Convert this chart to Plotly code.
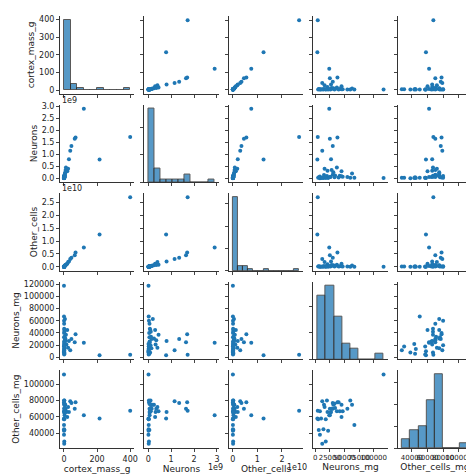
import numpy as np
import plotly.graph_objects as go
from plotly.subplots import make_subplots

cortex_mass_g = [400, 215, 120, 70, 65, 45, 38, 30, 25, 20, 15, 12, 10, 8, 6, 5, 4, 3.5, 3, 2.5,
                 2, 1.8, 1.5, 1.2, 1, 0.8, 0.6, 0.5, 0.4, 0.3, 0.25, 0.2, 0.5, 0.15, 0.1, 1.0, 2, 1.5, 3, 4]
neurons = [1.72e9, 0.78e9, 2.9e9, 1.7e9, 1.65e9, 1.35e9, 1.15e9, 0.8e9, 0.4e9, 0.3e9, 0.32e9, 0.45e9,
           0.35e9, 0.25e9, 0.2e9, 0.15e9, 0.14e9, 0.12e9, 0.11e9, 0.1e9, 0.09e9, 0.08e9, 0.07e9, 0.06e9,
           0.055e9, 0.05e9, 0.04e9, 0.03e9, 0.022e9, 0.02e9, 0.015e9, 0.012e9, 0.01e9, 0.008e9, 0.012e9,
           0.02e9, 0.03e9, 0.02e9, 0.05e9, 0.06e9]
other_cells = [2.7e10, 1.25e10, 0.75e10, 0.55e10, 0.45e10, 0.35e10, 0.3e10, 0.2e10, 0.18e10, 0.12e10,
               0.1e10, 0.08e10, 0.07e10, 0.06e10, 0.045e10, 0.035e10, 0.03e10, 0.025e10, 0.02e10, 0.02e10,
               0.015e10, 0.012e10, 0.01e10, 0.008e10, 0.007e10, 0.006e10, 0.005e10, 0.004e10, 0.003e10,
               0.002e10, 0.0015e10, 0.0012e10, 0.004e10, 0.001e10, 0.0009e10, 0.005e10, 0.011e10,
               0.009e10, 0.02e10, 0.025e10]
neurons_mg = [4300, 3600, 24000, 38000, 25000, 30000, 12000, 27000, 16000, 45000, 21000, 37000, 28000,
              31000, 63000, 30000, 15000, 34000, 42000, 20000, 45000, 8000, 47000, 26000, 55000, 33000,
              40000, 60000, 18000, 67000, 14000, 22000, 10000, 8000, 117000, 5000, 18000, 12000, 6000, 25000]
other_cells_mg = [67500, 58000, 62000, 78000, 70000, 77000, 79000, 66000, 72000, 60000, 66000, 67000,
                  70000, 75000, 75000, 70000, 75000, 71000, 67000, 80000, 75000, 67000, 67000, 65000,
                  70000, 76000, 78000, 80000, 57000, 50000, 45000, 43000, 58000, 38000, 112000, 57000,
                  30000, 27000, 44000, 62000]

names = ["cortex_mass_g", "Neurons", "Other_cells", "Neurons_mg", "Other_cells_mg"]
scales = [1, 1e9, 1e10, 1, 1]
exps = ["", "1e9", "1e10", "", ""]
nbins = [10, 11, 13, 8, 8]
ydticks = [100, 0.5, 0.5, 20000, 20000]
xdticks = [200, 1, 1, 25000, 20000]
yfmts = ["d", ".1f", ".1f", "d", "d"]
cols = [np.array(v, dtype=float) / s for v, s in zip(
    [cortex_mass_g, neurons, other_cells, neurons_mg, other_cells_mg], scales)]

blue = "#1f77b4"
n = 5
fig = make_subplots(rows=n, cols=n, horizontal_spacing=0.025, vertical_spacing=0.025)

ranges = []
for v in cols:
    pad = (v.max() - v.min()) * 0.06
    ranges.append([v.min() - pad, v.max() + pad])

for i in range(n):
    for j in range(n):
        r, c = i + 1, j + 1
        if i == j:
            counts, edges = np.histogram(cols[j], bins=nbins[j])
            fig.add_trace(go.Bar(x=(edges[:-1] + edges[1:]) / 2, y=counts, width=edges[1] - edges[0],
                                 marker=dict(color=blue, opacity=0.75, line=dict(color="#222", width=1)),
                                 showlegend=False), row=r, col=c)
            fig.update_yaxes(showticklabels=False, range=[0, counts.max() * 1.05], row=r, col=c)
        else:
            fig.add_trace(go.Scatter(x=cols[j], y=cols[i], mode="markers",
                                     marker=dict(color=blue, size=4), showlegend=False), row=r, col=c)
            fig.update_yaxes(range=ranges[i], showticklabels=(j == 0), dtick=ydticks[i], tick0=0,
                             tickformat=yfmts[i], row=r, col=c)
        fig.update_xaxes(range=ranges[j], showticklabels=(i == n - 1), dtick=xdticks[j], tick0=0,
                         tickformat="d", row=r, col=c)

# top-left: show cortex_mass_g ticks on the left like seaborn
counts0, _ = np.histogram(cols[0], bins=nbins[0])
fig.update_yaxes(showticklabels=True, range=[-counts0.max() * 0.05, counts0.max() * 1.05],
                 tickvals=[v * counts0.max() / 400 for v in [0, 100, 200, 300, 400]],
                 ticktext=["0", "100", "200", "300", "400"], row=1, col=1)

for k in range(n):
    fig.update_yaxes(title=dict(text=names[k], font=dict(size=9), standoff=2), row=k + 1, col=1)
    fig.update_xaxes(title=dict(text=names[k], font=dict(size=9), standoff=2), row=n, col=k + 1)

fig.update_xaxes(showgrid=False, zeroline=False, showline=True, linecolor="#333", ticks="outside",
                 ticklen=3, tickfont=dict(size=8), tickangle=0)
fig.update_yaxes(showgrid=False, zeroline=False, showline=True, linecolor="#333", ticks="outside",
                 ticklen=3, tickfont=dict(size=8))
fig.update_xaxes(tickfont=dict(size=7), row=n, col=4)
fig.update_xaxes(tickfont=dict(size=7), row=n, col=5)

# exponent labels
for k in range(n):
    if exps[k]:
        ax = fig.get_subplot(k + 1, 1)
        fig.add_annotation(text=exps[k], xref="paper", yref="paper", x=ax.xaxis.domain[0],
                           y=ax.yaxis.domain[1], xanchor="left", yanchor="bottom", yshift=-2,
                           showarrow=False, font=dict(size=8))
        ax = fig.get_subplot(n, k + 1)
        fig.add_annotation(text=exps[k], xref="paper", yref="paper", x=ax.xaxis.domain[1],
                           y=0, xanchor="right", yanchor="top", yshift=-13, xshift=6,
                           showarrow=False, font=dict(size=8))

fig.update_layout(width=474, height=474, margin=dict(l=52, r=6, t=8, b=34),
                  plot_bgcolor="white", paper_bgcolor="white", bargap=0,
                  font=dict(family="DejaVu Sans", color="#222"))
fig.write_html("out.html")
